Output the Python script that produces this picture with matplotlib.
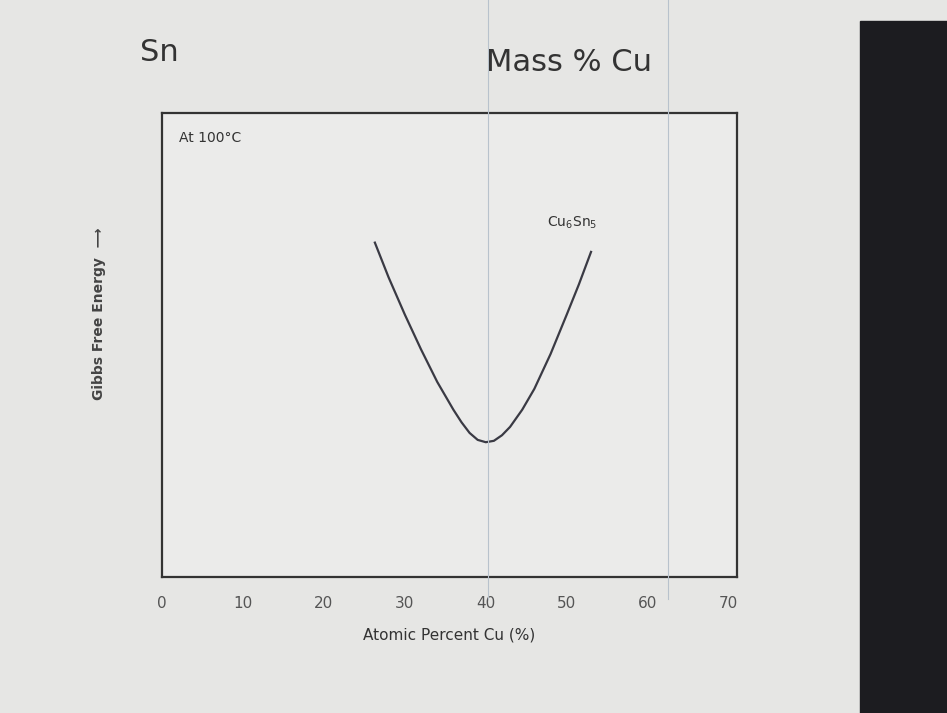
import matplotlib.pyplot as plt
from matplotlib.patches import Rectangle

# curve for Cu6Sn5 (atomic % Cu vs relative Gibbs energy)
curve_x = [26.3, 28, 30, 32, 34, 36, 37, 38, 39, 40, 41, 42, 43, 44.5, 46, 48, 50, 51.5, 53]
curve_y = [0.72, 0.645, 0.565, 0.49, 0.42, 0.36, 0.333, 0.31, 0.295, 0.29, 0.293, 0.305, 0.323, 0.36, 0.405, 0.48, 0.565, 0.63, 0.70]
ticks = [0, 10, 20, 30, 40, 50, 60, 70]

fig = plt.figure(figsize=(9.47, 7.13), dpi=100)
fig.patch.set_facecolor('#e6e6e4')
fig.patches.append(Rectangle((0.908, 0), 0.092, 0.97, transform=fig.transFigure,
                             color='#1c1c20', zorder=0))

ax = fig.add_axes([0.171, 0.191, 0.607, 0.651])
ax.set_facecolor('#ebebea')
ax.plot(curve_x, curve_y, color='#3a3a44', lw=1.6)
ax.set_xlim(0, 71)
ax.set_ylim(0, 1)
ax.set_yticks([])
ax.set_xticks(ticks)
ax.tick_params(axis='x', length=0, pad=14, labelsize=11, labelcolor='#555555')
for s in ax.spines.values():
    s.set_color('#333333')
    s.set_linewidth(1.6)
ax.set_xlabel('Atomic Percent Cu (%)', fontsize=11, color='#333333', labelpad=12)
ax.text(0.03, 0.96, 'At 100°C', transform=ax.transAxes, fontsize=10, va='top', color='#333333')
ax.text(47.5, 0.755, r'Cu$_6$Sn$_5$', fontsize=10, color='#333333')

# thin vertical guide lines through the top
for xf in [0.515, 0.705]:
    fig.add_artist(plt.Line2D([xf, xf], [0.16, 1.0], transform=fig.transFigure,
                              color='#b8c2cc', lw=0.8))

fig.text(0.148, 0.915, 'Sn', fontsize=22, color='#333333')
fig.text(0.513, 0.9, 'Mass % Cu', fontsize=22, color='#333333')
fig.text(0.105, 0.56, 'Gibbs Free Energy  ⟶', rotation=90, fontsize=10,
         color='#444444', ha='center', va='center', fontweight='bold')

fig.savefig('out.png', dpi=100, facecolor=fig.get_facecolor())
